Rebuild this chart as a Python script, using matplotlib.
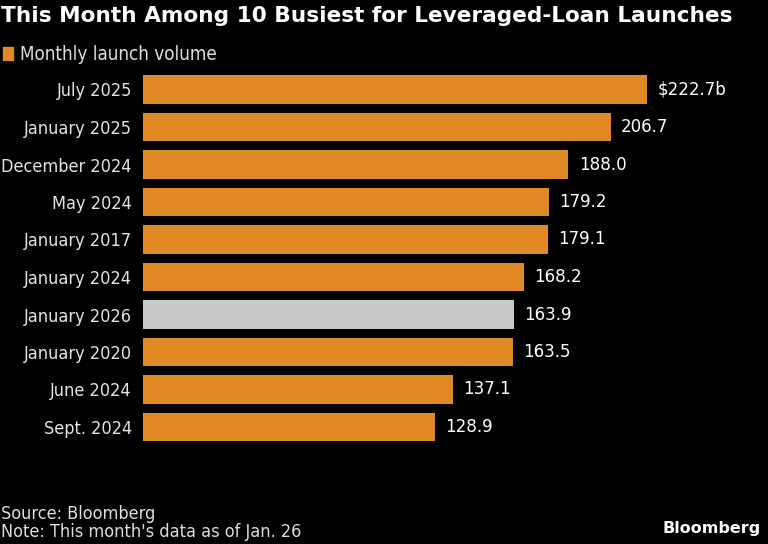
import matplotlib
matplotlib.use("Agg")
import matplotlib.pyplot as plt
from matplotlib.patches import Rectangle
from matplotlib.font_manager import FontProperties

categories = ["July 2025", "January 2025", "December 2024", "May 2024", "January 2017",
              "January 2024", "January 2026", "January 2020", "June 2024", "Sept. 2024"]
values = [222.7, 206.7, 188.0, 179.2, 179.1, 168.2, 163.9, 163.5, 137.1, 128.9]
highlight = "January 2026"
value_labels = ["$222.7b"] + [f"{v:.1f}" for v in values[1:]]

ORANGE = "#E08A26"
GRAY = "#C8C8C8"
W, H = 768, 544


def cond(size):
    return FontProperties(family="DejaVu Sans", stretch="condensed", size=size)


fig = plt.figure(figsize=(7.68, 5.44), dpi=100)
fig.patch.set_facecolor("black")

left, right = 143, 760
top, bottom = 70.75, 445.75
ax = fig.add_axes([left / W, 1 - bottom / H, (right - left) / W, (bottom - top) / H])
ax.set_facecolor("black")
scale = 504 / 222.7
ax.set_xlim(0, (right - left) / scale)
ax.set_ylim(len(categories) - 0.5, -0.5)

ypos = list(range(len(categories)))
colors = [GRAY if c == highlight else ORANGE for c in categories]
ax.barh(ypos, values, height=0.77, color=colors)
for y, v, lab in zip(ypos, values, value_labels):
    ax.text(v + 4.5, y, lab, color="white", va="center", ha="left", fontproperties=cond(13.3))

ax.set_yticks(ypos)
ax.set_yticklabels(categories, color="#E4E4E4", fontproperties=cond(13))
ax.tick_params(axis="y", length=0, pad=8)
ax.set_xticks([])
for s in ax.spines.values():
    s.set_visible(False)

fig.text(1 / W, 1 - 16 / H, "This Month Among 10 Busiest for Leveraged-Loan Launches",
         color="white", fontsize=15.6, fontweight="bold", va="center", ha="left")
fig.patches.append(Rectangle((3 / W, 1 - 60 / H), 10 / W, 13 / H, transform=fig.transFigure,
                             color=ORANGE, figure=fig))
fig.text(20 / W, 1 - 54 / H, "Monthly launch volume", color="#DDDDDD",
         va="center", ha="left", fontproperties=cond(13.5))
fig.text(1 / W, 1 - 514 / H, "Source: Bloomberg", color="#DDDDDD",
         va="center", ha="left", fontproperties=cond(13))
fig.text(1 / W, 1 - 532 / H, "Note: This month's data as of Jan. 26", color="#DDDDDD",
         va="center", ha="left", fontproperties=cond(13))
fig.text(761 / W, 1 - 529 / H, "Bloomberg", color="white", fontsize=11.5,
         fontweight="bold", va="center", ha="right")

fig.savefig("out.png", dpi=100, facecolor="black")
